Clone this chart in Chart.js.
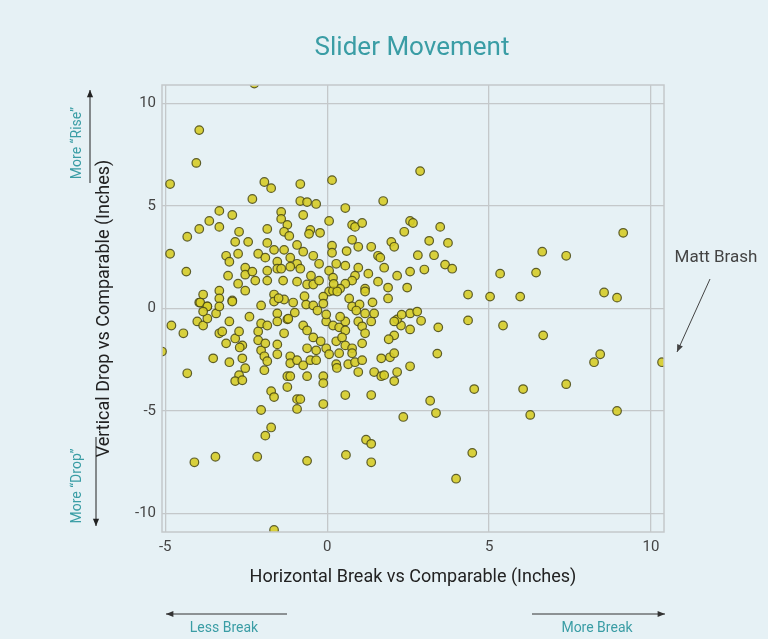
<!DOCTYPE html>
<html><head><meta charset="utf-8">
<script src="https://cdn.jsdelivr.net/npm/chart.js@4"></script>
<style>html,body{margin:0;padding:0;background:#e6f1f5;}#c{display:block;}</style>
</head><body>
<div style="width:768px;height:639px"><canvas id="c" width="768" height="639"></canvas></div>
<script>
const title = "Slider Movement";
const xTitle = "Horizontal Break vs Comparable (Inches)";
const yTitle = "Vertical Drop vs Comparable (Inches)";
const xTicks = [-5, 0, 5, 10];
const yTicks = [-10, -5, 0, 5, 10];
const horizontalBreak = [
-2.25,-3.95,-4.04,-4.85,-1.94,-1.73,-0.83,0.15,-2.31,1.73,2.87,-4.85,-4.35,-4.81,-5.1,-4.32,-4.1,-3.45,-2.16,-0.62,0.58,1.2,1.36,1.36,-1.64,-2.04,-1.91,-1.73,-0.93,3.18,3.36,
3.98,4.48,4.54,3.4,3.43,4.35,4.35,5.03,5.34,5.43,5.96,6.45,6.64,6.67,6.05,6.27,7.38,7.38,8.24,8.43,8.55,8.95,8.95,9.14,10.34,
3.49,3.73,3.64,3.86,3.15,
-3.33,-2.93,-3.64,-3.95,-3.33,-4.32,-2.72,-2.84,-2.44,-2.75,-3.12,-3.02,-3.06,-2.75,-2.53,-3.33,-3.83,-3.95,-2.93,
-1.85,-1.42,-1.42,-1.23,-1.33,-1.17,-1.85,-0.93,-1.64,-1.33,-2.13,-1.91,-1.54,-1.14,-0.74,-0.52,-0.56,-0.22,-0.74,
-0.83,-0.62,-0.34,0.06,0.56,0.15,0.15,-0.43,-0.25,-0.93,-0.83,-1.14,-1.54,-2.53,-2.53,-2.31,-2.22,-1.85,-1.85,-1.42,-1.36,
-0.93,-0.62,-0.43,-0.25,0.06,0.18,0.28,0.56,0.77,0.86,1.08,0.77,0.96,1.36,1.57,1.64,1.76,0.96,0.86,1.27,1.57,0.77,0.56,0.4,0.06,0.18,-0.12,
1.17,1.17,1.88,1.88,2.16,2.47,2.56,1.98,2.07,2.38,2.56,2.65,-1.64,-1.64,-2.04,-1.33,-1.05,-0.65,-0.43,-0.12,0.31,0.68,0.77,-3.7,-3.33,
-4.44,-4.01,-3.83,-3.7,-3.92,-3.7,-3.83,-3.43,-3.33,-2.93,-3.52,-3.12,-3.02,-3.33,-3.24,-3.02,-2.84,-2.72,-2.62,-2.62,-2.53,-2.72,-2.84,-2.62,
-2.13,-2.13,-2.04,-1.91,-1.94,-1.85,-1.94,-2.04,-1.85,-1.54,-1.54,-1.23,-1.33,-1.54,-1.54,-1.14,-1.14,-0.93,-0.74,-1.23,-1.14,-1.23,-1.73,-1.64,
-0.93,-0.83,-0.74,-0.62,-0.43,-0.62,-0.34,-0.52,-0.34,-0.62,-0.12,-0.12,-0.12,-0.03,0.06,-0.03,0.18,-0.03,0.37,0.56,0.56,0.28,0.46,0.56,0.37,0.28,
0.77,0.77,0.65,0.86,1.08,0.96,1.08,0.96,1.08,1.17,1.36,1.17,1.45,1.67,1.94,2.07,1.45,1.67,1.76,2.07,2.16,2.56,2.07,2.56,2.28,2.16,2.07,2.56,2.78,
1.36,0.56,2.35,2.9,3.0,2.8,3.3,-0.3,0.4,-0.7,1.0,-1.0,0.2,-2.4,-1.5,0.9,-0.2,1.4,2.3,-2.7,-0.5,0.6,1.9,-1.2,0.3
];
const verticalDrop = [
10.97,8.7,7.1,6.07,6.17,5.87,6.07,6.26,5.34,5.24,6.7,2.67,1.8,-0.83,-2.1,-3.16,-7.5,-7.23,-7.23,-7.43,-7.14,-6.4,-6.6,-7.5,-10.8,-4.95,-6.2,-5.8,-4.9,-4.5,-5.1,
-8.3,-7.04,-3.93,-2.2,-0.92,-0.58,0.68,0.58,1.7,-0.83,0.58,1.75,2.77,-1.31,-3.93,-5.19,2.57,-3.69,-2.62,-2.23,0.78,0.53,-5.0,3.69,-2.62,
3.98,3.2,2.14,1.94,3.3,
4.76,4.56,4.27,3.88,3.98,3.5,3.74,3.25,3.25,2.67,2.57,2.28,1.6,1.21,0.87,0.87,0.68,0.29,0.39,
3.88,4.71,4.37,4.08,3.74,3.54,3.2,3.1,2.86,2.86,2.67,2.48,2.28,2.48,2.77,3.83,3.64,3.69,4.56,
5.24,5.19,5.1,4.27,4.9,3.06,2.72,2.57,2.18,2.18,1.94,2.04,1.94,1.99,1.65,1.8,1.36,1.36,1.84,1.94,1.36,
1.31,1.17,1.17,1.36,1.84,1.5,2.18,2.09,4.08,3.98,4.17,3.35,3.01,3.01,2.57,2.48,1.99,1.99,1.6,1.7,1.31,1.36,1.21,0.97,0.83,0.87,0.58,
0.97,0.83,1.02,0.49,1.6,1.02,1.8,3.25,3.01,3.74,4.27,4.17,0.68,0.34,0.15,0.44,0.29,0.19,0.15,0.24,0.83,0.49,0.1,0.1,0.49,
-1.21,-0.63,-0.83,-0.49,0.29,0.1,-0.15,-0.24,0.1,0.34,-2.43,-1.7,-2.62,-1.21,-1.12,-0.63,-1.46,-1.12,-1.8,-2.43,-2.91,-3.25,-3.54,-3.5,
-1.12,-1.55,-2.04,-1.7,-2.33,-2.57,-3.01,-0.73,-0.83,-0.24,-0.63,-0.53,-1.21,-1.75,-2.23,-2.33,-2.67,-2.52,-2.77,-3.3,-3.3,-3.83,-4.03,-4.32,
-4.42,-4.42,-0.83,-1.07,-1.41,-1.94,-2.04,-2.52,-2.52,-3.3,-3.3,-3.64,-4.66,-1.94,-2.23,-0.63,-0.83,-0.29,-0.92,-0.63,-1.07,-1.6,-1.41,-1.8,-2.18,-2.72,
-1.94,-2.18,-2.72,-2.62,-2.52,-3.1,-1.7,-0.63,-0.87,-1.21,-0.63,-0.24,-0.24,-2.43,-2.38,-2.18,-3.1,-3.3,-3.25,-3.54,-3.1,-2.82,-1.31,-1.02,-0.83,-0.53,-0.63,-0.24,-0.15,
-4.22,-4.22,-5.29,-0.6,1.9,2.6,2.6,-0.1,-0.4,0.6,0.2,-0.2,1.2,-0.4,0.5,-0.1,-1.6,0.3,-0.3,-1.9,1.6,2.8,-1.5,-0.5,-2.9
];
const points = horizontalBreak.map((x, i) => ({x: x, y: verticalDrop[i]}));

const deco = {
  id: 'deco',
  beforeDraw(chart) {
    const ctx = chart.ctx;
    ctx.save();
    ctx.fillStyle = '#e6f1f5';
    ctx.fillRect(0, 0, chart.width, chart.height);
    ctx.restore();
  },
  afterDraw(chart) {
    const ctx = chart.ctx, a = chart.chartArea;
    ctx.save();
    ctx.strokeStyle = '#c4c8ca'; ctx.lineWidth = 1.5;
    ctx.strokeRect(a.left, a.top, a.right - a.left, a.bottom - a.top);
    ctx.fillStyle = '#3a9da5';
    ctx.font = '26px Roboto, sans-serif';
    ctx.textAlign = 'center'; ctx.textBaseline = 'middle';
    ctx.fillText(title, 412, 48);
    function arrow(x1, y1, x2, y2, color, w) {
      ctx.strokeStyle = color; ctx.fillStyle = color; ctx.lineWidth = w;
      ctx.beginPath(); ctx.moveTo(x1, y1); ctx.lineTo(x2, y2); ctx.stroke();
      const ang = Math.atan2(y2 - y1, x2 - x1), L = 8;
      ctx.beginPath(); ctx.moveTo(x2, y2);
      ctx.lineTo(x2 - L * Math.cos(ang - 0.4), y2 - L * Math.sin(ang - 0.4));
      ctx.lineTo(x2 - L * Math.cos(ang + 0.4), y2 - L * Math.sin(ang + 0.4));
      ctx.closePath(); ctx.fill();
    }
    arrow(90, 183, 90, 90, '#222', 1);
    arrow(96, 437, 96, 526, '#222', 1);
    arrow(287, 614, 166, 614, '#333', 1);
    arrow(532, 614, 665, 614, '#333', 1);
    arrow(710, 279, 677, 352, '#444', 1);
    ctx.fillStyle = '#3a9da5';
    ctx.font = '14px Roboto, sans-serif';
    ctx.fillText('Less Break', 224, 628);
    ctx.fillText('More Break', 597, 628);
    ctx.save(); ctx.translate(77, 143); ctx.rotate(-Math.PI / 2);
    ctx.fillText('More \u201cRise\u201d', 0, 0); ctx.restore();
    ctx.save(); ctx.translate(77, 486); ctx.rotate(-Math.PI / 2);
    ctx.fillText('More \u201cDrop\u201d', 0, 0); ctx.restore();
    ctx.fillStyle = '#444'; ctx.font = '17px Roboto, sans-serif';
    ctx.fillText('Matt Brash', 716, 258);
    ctx.restore();
  }
};

new Chart(document.getElementById('c'), {
  type: 'scatter',
  data: { datasets: [{ data: points, backgroundColor: 'rgba(214,204,40,0.9)', borderColor: 'rgba(70,70,20,0.85)', borderWidth: 1.2, pointRadius: 4.3 }] },
  options: {
    responsive: false, animation: false, devicePixelRatio: 1,
    layout: { padding: { left: 90, right: 104, top: 85, bottom: 47 } },
    plugins: { legend: { display: false }, tooltip: { enabled: false } },
    scales: {
      x: {
        type: 'linear', min: -5.1, max: 10.4,
        afterBuildTicks: s => { s.ticks = xTicks.map(v => ({value: v})); },
        afterFit: s => { s.height = 60; },
        grid: { color: '#c4c8ca', lineWidth: 1.3, drawTicks: false },
        border: { display: false },
        ticks: { color: '#444', font: { size: 15, family: 'Roboto' }, padding: 6 },
        title: { display: true, text: xTitle, color: '#222', font: { size: 18, family: 'Roboto' }, padding: { top: 8 } }
      },
      y: {
        type: 'linear', min: -10.9, max: 10.9,
        afterBuildTicks: s => { s.ticks = yTicks.map(v => ({value: v})); },
        afterFit: s => { s.width = 72; },
        grid: { color: '#c4c8ca', lineWidth: 1.3, drawTicks: false },
        border: { display: false },
        ticks: { color: '#444', font: { size: 15, family: 'Roboto' }, padding: 6 },
        title: { display: true, text: yTitle, color: '#222', font: { size: 18, family: 'Roboto' }, padding: { bottom: 6 } }
      }
    }
  },
  plugins: [deco]
});
</script>
</body></html>
